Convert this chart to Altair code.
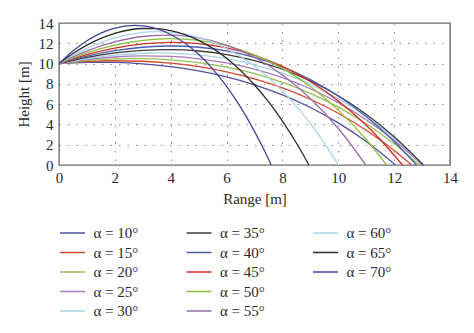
import altair as alt
import pandas as pd

# Launch angles (degrees) and line colours
angles = [10, 15, 20, 25, 30, 35, 40, 45, 50, 55, 60, 65, 70]
line_colors = ["#4f4f9f", "#d5492f", "#98c051", "#a67bbd", "#a6d3e4",
               "#3c3c3c", "#4b5cb0", "#cf2b20", "#8fbc3f", "#9d6aab",
               "#a9d5e8", "#2b2b2b", "#42449a"]

# Trajectories: range [m] and height [m]
x_a10 = [0, 1, 1.5, 2, 3, 4, 5, 6, 7, 8, 9, 10, 11, 12.05]
y_a10 = [10, 10.12, 10.13, 10.11, 9.98, 9.70, 9.28, 8.69, 7.91, 6.91, 5.67, 4.15, 2.31, 0]

x_a15 = [0, 1, 2, 3, 4, 5, 6, 7, 8, 9, 10, 11, 12, 12.63]
y_a15 = [10, 10.21, 10.28, 10.23, 10.04, 9.70, 9.19, 8.50, 7.60, 6.48, 5.10, 3.43, 1.44, 0]

x_a20 = [0, 1, 2, 2.5, 3, 4, 5, 6, 7, 8, 9, 10, 11, 12, 12.9]
y_a20 = [10, 10.30, 10.46, 10.49, 10.49, 10.37, 10.09, 9.64, 9.00, 8.14, 7.06, 5.71, 4.06, 2.09, 0]

x_a25 = [0, 1, 2, 3, 4, 5, 6, 7, 8, 9, 10, 11, 12, 13]
y_a25 = [10, 10.40, 10.65, 10.75, 10.70, 10.47, 10.06, 9.45, 8.61, 7.52, 6.15, 4.46, 2.43, 0]

x_a30 = [0, 1, 2, 3, 3.5, 4, 5, 6, 7, 8, 9, 10, 11, 12, 13.05]
y_a30 = [10, 10.50, 10.84, 11.02, 11.05, 11.03, 10.86, 10.48, 9.88, 9.05, 7.94, 6.53, 4.78, 2.67, 0]

x_a35 = [0, 1, 2, 3, 4, 5, 6, 7, 8, 9, 10, 11, 12, 13.05]
y_a35 = [10, 10.61, 11.05, 11.31, 11.38, 11.24, 10.89, 10.29, 9.44, 8.29, 6.83, 5.01, 2.79, 0]

x_a40 = [0, 1, 2, 3, 4, 5, 6, 7, 8, 9, 10, 11, 12, 12.8]
y_a40 = [10, 10.74, 11.28, 11.61, 11.73, 11.61, 11.25, 10.62, 9.68, 8.42, 6.80, 4.78, 2.32, 0]

x_a45 = [0, 0.5, 1, 2, 3, 4, 5, 6, 7, 8, 9, 10, 11, 11.5, 12.3]
y_a45 = [10, 10.47, 10.88, 11.53, 11.94, 12.09, 11.96, 11.55, 10.81, 9.72, 8.23, 6.32, 3.92, 2.52, 0]

x_a50 = [0, 0.5, 1, 2, 3, 4, 5, 6, 7, 8, 9, 10, 11, 11.73]
y_a50 = [10, 10.56, 11.05, 11.82, 12.29, 12.45, 12.29, 11.77, 10.86, 9.53, 7.73, 5.41, 2.51, 0]

x_a55 = [0, 0.5, 1, 2, 3, 4, 5, 6, 7, 8, 9, 10, 10.5, 10.98]
y_a55 = [10, 10.67, 11.25, 12.14, 12.67, 12.81, 12.53, 11.82, 10.62, 8.88, 6.56, 3.60, 1.85, 0]

x_a60 = [0, 0.5, 1, 1.5, 2, 3, 3.5, 4, 5, 6, 7, 8, 9, 9.5, 10]
y_a60 = [10, 10.81, 11.50, 12.07, 12.53, 13.07, 13.15, 13.10, 12.59, 11.49, 9.75, 7.31, 4.08, 2.16, 0]

x_a65 = [0, 0.5, 1, 1.5, 2, 3, 3.5, 4, 5, 6, 7, 7.5, 8, 8.5, 8.95]
y_a65 = [10, 10.99, 11.82, 12.48, 12.98, 13.46, 13.45, 13.25, 12.28, 10.52, 7.89, 6.24, 4.33, 2.17, 0]

x_a70 = [0, 0.5, 1, 1.5, 2, 2.7, 3, 4, 5, 5.5, 6, 6.5, 7, 7.3, 7.6]
y_a70 = [10, 11.25, 12.25, 13.00, 13.50, 13.76, 13.72, 12.87, 10.91, 9.48, 7.75, 5.70, 3.32, 1.72, 0]

series = {
    10: (x_a10, y_a10), 15: (x_a15, y_a15), 20: (x_a20, y_a20),
    25: (x_a25, y_a25), 30: (x_a30, y_a30), 35: (x_a35, y_a35),
    40: (x_a40, y_a40), 45: (x_a45, y_a45), 50: (x_a50, y_a50),
    55: (x_a55, y_a55), 60: (x_a60, y_a60), 65: (x_a65, y_a65),
    70: (x_a70, y_a70),
}

axis_ticks = [0, 2, 4, 6, 8, 10, 12, 14]
labels = [f"α = {a}°" for a in angles]

rows = []
for a, lab in zip(angles, labels):
    xs, ys = series[a]
    for x, y in zip(xs, ys):
        rows.append({"label": lab, "x": x, "y": y})
df = pd.DataFrame(rows)

# Legend table: 3 columns of 5 rows, filled column by column
leg = pd.DataFrame({
    "label": labels,
    "col": [i // 5 for i in range(len(labels))],
    "row": [i % 5 for i in range(len(labels))],
})

FONT = "Liberation Serif"
TXT = "#2a2a2a"
color_scale = alt.Scale(domain=labels, range=line_colors)

lines = alt.Chart(df).mark_line(strokeWidth=1.3, interpolate="monotone", clip=True).encode(
    x=alt.X("x:Q", scale=alt.Scale(domain=[0, 14], nice=False),
            axis=alt.Axis(values=axis_ticks, title="Range [m]", labelPadding=5,
                          titlePadding=6, format="d")),
    y=alt.Y("y:Q", scale=alt.Scale(domain=[0, 14], nice=False),
            axis=alt.Axis(values=axis_ticks, title="Height [m]", labelPadding=6,
                          titlePadding=7, format="d")),
    color=alt.Color("label:N", scale=color_scale, legend=None),
)

leg_x = alt.X("col:Q", scale=alt.Scale(domain=[0, 2], range=[13.5, 266.5]), axis=None)
leg_y = alt.Y("row:Q", scale=alt.Scale(domain=[0, 4], range=[210, 288]), axis=None)

sym = alt.Chart(leg).mark_point(shape="stroke", size=625, strokeWidth=1.5,
                                filled=False, opacity=1).encode(
    x=leg_x, y=leg_y,
    color=alt.Color("label:N", scale=color_scale, legend=None),
)

txt = alt.Chart(leg).mark_text(align="left", baseline="middle", dx=21,
                               font=FONT, fontSize=15, color=TXT).encode(
    x=leg_x, y=leg_y, text="label:N",
)

chart = alt.layer(lines, sym, txt).resolve_scale(
    x="independent", y="independent"
).properties(
    width=391, height=142,
    autosize=alt.AutoSizeParams(type="none"),
    padding={"left": 59, "top": 23, "right": 24, "bottom": 168},
    background="white",
).configure_view(
    stroke="#6e6e6e", strokeWidth=1.4,
).configure_axis(
    labelFont=FONT, titleFont=FONT, labelFontSize=15, titleFontSize=15,
    labelColor=TXT, titleColor=TXT, titleFontWeight="normal",
    domain=False, ticks=False, tickSize=0, grid=True,
    gridColor="#8a8a8a", gridDash=[1.5, 7], gridWidth=1, labelFlush=False,
)

chart.save("out.html", embed_options={"renderer": "svg", "actions": False})
